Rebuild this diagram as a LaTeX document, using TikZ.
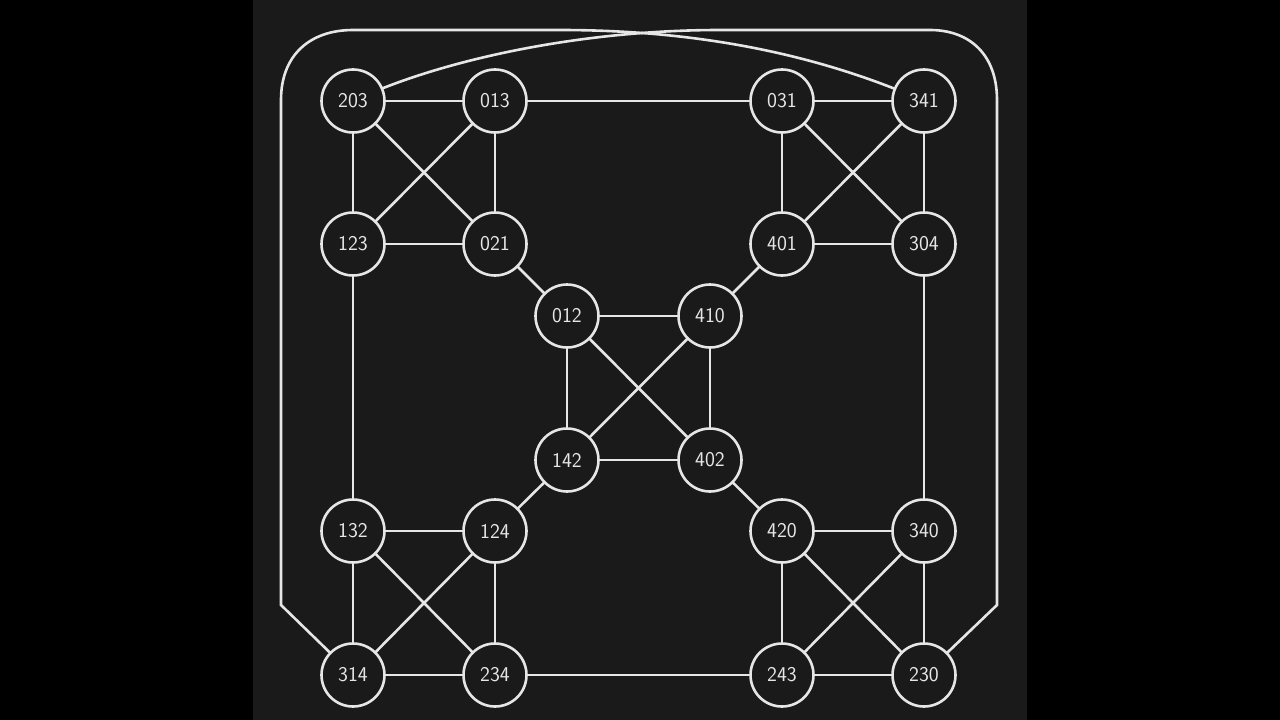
\documentclass[tikz,border=0pt]{standalone}
\begin{document}
\begin{tikzpicture}[x=1pt,y=-1pt,
  vtx/.style={circle,draw=fg,fill=bgc,line width=2.6pt,minimum size=63pt,inner sep=0pt,text=fg,font=\sffamily\fontsize{21}{24}\selectfont},
  ed/.style={draw=fg,line width=2.6pt}]
\definecolor{fg}{HTML}{E6E6E6}
\definecolor{bgc}{HTML}{1A1A1A}
\fill[black] (0,0) rectangle (1280,720);
\fill[bgc] (253,0) rectangle (1027,720);
\useasboundingbox (0,0) rectangle (1280,720);
\foreach \n/\x/\y in {203/353/101,013/495/101,031/782/101,341/924/101,
 123/353/244,021/495/244,401/782/244,304/924/244,
 012/567/316,410/710/316,142/567/460,402/710/460,
 132/353/531,124/495/531,420/782/531,340/924/531,
 314/353/675,234/495/675,243/782/675,230/924/675}
 \coordinate (c\n) at (\x,\y);
\begin{scope}[ed]
\foreach \a/\b in {203/013,203/123,203/021,013/123,013/021,123/021,
 031/341,031/401,031/304,341/401,341/304,401/304,
 012/410,012/142,012/402,410/142,410/402,142/402,
 132/124,132/314,132/234,124/314,124/234,314/234,
 420/340,420/243,420/230,340/243,340/230,243/230,
 013/031,021/012,401/410,142/124,402/420,123/132,234/243,304/340}
 \draw (c\a) -- (c\b);
\draw (c314) -- (281,605) -- (281,100) .. controls (281,55) and (310,30) .. (353,30)
  -- (560,30) .. controls (700,30) and (820,55) .. (c341);
\draw (c203) .. controls (440,60) and (580,30) .. (720,30)
  -- (930,30) .. controls (970,30) and (997,55) .. (997,100) -- (997,605) -- (c230);
\end{scope}
\foreach \n in {203,013,031,341,123,021,401,304,012,410,142,402,132,124,420,340,314,234,243,230}
 \node[vtx] (n\n) at (c\n) {\n};
\end{tikzpicture}
\end{document}
